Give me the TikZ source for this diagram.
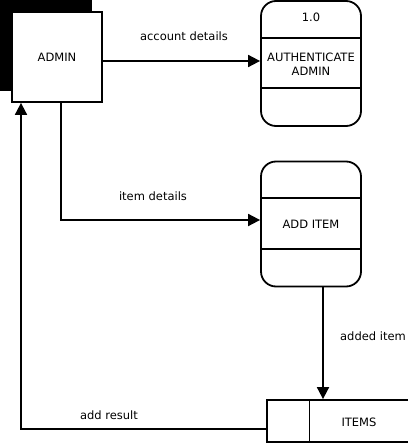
\documentclass[tikz,border=0pt]{standalone}
\usepackage{fontspec}
\setmainfont{DejaVu Sans}
\usetikzlibrary{arrows.meta,calc}
\begin{document}
\begin{tikzpicture}[x=1pt,y=-1pt,
  box/.style={draw,line width=1.8pt,fill=white,inner sep=0pt},
  proc/.style={box,rounded corners=15pt,minimum width=100pt,minimum height=125pt},
  arr/.style={line width=1.8pt,-{Triangle[length=12pt,width=12pt]}},
  lbl/.style={font=\fontsize{11.5}{14}\selectfont,inner sep=0pt,align=center}]
\useasboundingbox (0,0) rectangle (407,444);
% shadow
\fill[black] (0,0) rectangle (92,91);
% entity
\node[box,minimum width=90pt,minimum height=90pt] (admin) at (57,57) {};
\node[lbl] (admint) at (57,57) {ADMIN};
% process 1
\node[proc] (auth) at (311,63.5) {};
\draw[line width=1.8pt] (261,38) -- (361,38);
\draw[line width=1.8pt] (261,88) -- (361,88);
\node[lbl] (authn) at (311,17) {1.0};
\node[lbl] (autht) at (311,64) {AUTHENTICATE\\ADMIN};
% process 2
\node[proc] (add) at (311,224) {};
\draw[line width=1.8pt] (261,198) -- (361,198);
\draw[line width=1.8pt] (261,249) -- (361,249);
\node[lbl] (addt) at (311,224.5) {ADD ITEM};
% data store (right side runs past the edge)
\node[box,minimum width=144pt,minimum height=42pt] (items) at (339,421) {};
\draw[line width=1pt] (309,400) -- (309,442);
\node[lbl] (itemst) at (359,422) {ITEMS};
% connectors
\coordinate (c1) at (0,61);
\draw[arr] (admin.east |- c1) -- (auth.west |- c1);
\node[lbl] (l1) at (184,36) {account details};
\coordinate (c2) at (61,220);
\draw[arr] (admin.south -| c2) |- (add.west |- c2);
\node[lbl] (l2) at (153,196) {item details};
\coordinate (c3) at (323,0);
\draw[arr] (add.south -| c3) -- (items.north -| c3);
\node[lbl] (l3) at (373,336) {added item};
\coordinate (c4) at (21,429);
\draw[arr] (items.west |- c4) -| (admin.south -| c4);
\node[lbl] (l4) at (109,415) {add result};
\end{tikzpicture}
\end{document}
